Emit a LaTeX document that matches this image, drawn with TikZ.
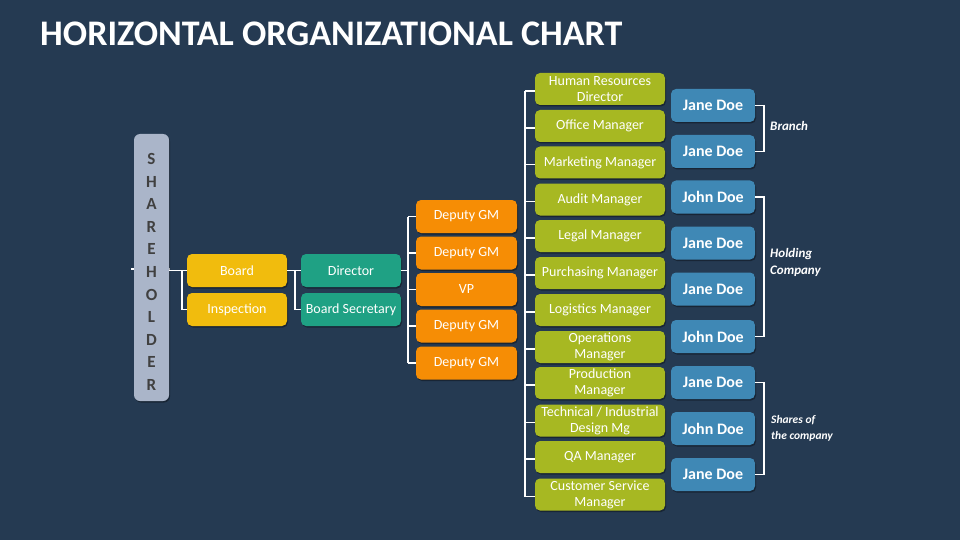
\documentclass[tikz,border=0pt]{standalone}
\usepackage{fontspec}
\setmainfont{Carlito}
\usetikzlibrary{shadows}
\definecolor{bg}{HTML}{253A52}
\definecolor{shc}{HTML}{AAB5C9}
\definecolor{shtext}{HTML}{404040}
\definecolor{yel}{HTML}{F1BC0D}
\definecolor{teal}{HTML}{1FA184}
\definecolor{ora}{HTML}{F68D05}
\definecolor{grn}{HTML}{A7B822}
\definecolor{blu}{HTML}{3F88B5}
\tikzset{
  box/.style={rounded corners=5pt, text=white, align=center, inner sep=0pt,
    font=\fontsize{14}{16}\selectfont,
    drop shadow={shadow xshift=1pt, shadow yshift=-1.5pt, opacity=0.35, fill=black}},
  ybox/.style={box, fill=yel, minimum width=100pt, minimum height=33pt},
  tbox/.style={box, fill=teal, minimum width=100pt, minimum height=33pt},
  obox/.style={box, fill=ora, minimum width=101pt, minimum height=33pt},
  gbox/.style={box, fill=grn, minimum width=130pt, minimum height=32pt},
  bbox/.style={box, fill=blu, minimum width=84pt, minimum height=33pt,
    font=\fontsize{16}{18}\selectfont\bfseries},
  conn/.style={draw=white, line width=1.6pt},
  lbl/.style={text=white, align=left, anchor=west, inner sep=0pt,
    font=\fontsize{13}{17}\selectfont\bfseries\itshape},
}
\begin{document}
\begin{tikzpicture}[x=1pt,y=-1pt]
\fill[bg] (0,0) rectangle (960,540);
\useasboundingbox (0,0) rectangle (960,540);

\node[anchor=base west, text=white, inner sep=0pt, font=\fontsize{36}{40}\selectfont\bfseries] (title) at (40,46) {HORIZONTAL ORGANIZATIONAL CHART};

% connector behind shareholder
\coordinate (shl) at (131,269);
\coordinate (shr) at (170,269);
\draw[conn] (shl) -- (shr);

\node[rounded corners=6pt, fill=shc, minimum width=35pt, minimum height=267pt, inner sep=0pt,
  drop shadow={shadow xshift=1pt, shadow yshift=-1.5pt, opacity=0.35, fill=black}] (sh) at (151.5,267.5) {};
\foreach \l [count=\i from 0] in {S,H,A,R,E,H,O,L,D,E,R}{
  \node[text=shtext, inner sep=0pt, font=\fontsize{17}{17}\selectfont\bfseries] (shl\i) at (151.5,{159+22.6*\i}) {\l};
}

\node[ybox] (board) at (237,270.5) {Board};
\node[ybox] (insp) at (237,309.5) {Inspection};
\node[tbox] (dir) at (351,270.5) {Director};
\node[tbox] (sec) at (351,309.5) {Board Secretary};

\node[obox] (o1) at (466.5,216.5) {Deputy GM};
\node[obox] (o2) at (466.5,253) {Deputy GM};
\node[obox] (o3) at (466.5,289.5) {VP};
\node[obox] (o4) at (466.5,326) {Deputy GM};
\node[obox] (o5) at (466.5,363) {Deputy GM};

\node[gbox] (g1) at (600,89) {Human Resources\\Director};
\node[gbox] (g2) at (600,126) {Office Manager};
\node[gbox] (g3) at (600,162.5) {Marketing Manager};
\node[gbox] (g4) at (600,199.5) {Audit Manager};
\node[gbox] (g5) at (600,236) {Legal Manager};
\node[gbox] (g6) at (600,273) {Purchasing Manager};
\node[gbox] (g7) at (600,310) {Logistics Manager};
\node[gbox] (g8) at (600,347) {Operations\\Manager};
\node[gbox] (g9) at (600,383) {Production\\Manager};
\node[gbox] (g10) at (600,420.5) {Technical / Industrial\\Design Mg};
\node[gbox] (g11) at (600,457) {QA Manager};
\node[gbox] (g12) at (600,494.5) {Customer Service\\Manager};

\node[bbox] (b1) at (713,105.5) {Jane Doe};
\node[bbox] (b2) at (713,151.5) {Jane Doe};
\node[bbox] (b3) at (713,197) {John Doe};
\node[bbox] (b4) at (713,243) {Jane Doe};
\node[bbox] (b5) at (713,289) {Jane Doe};
\node[bbox] (b6) at (713,336.5) {John Doe};
\node[bbox] (b7) at (713,382.5) {Jane Doe};
\node[bbox] (b8) at (713,428.5) {John Doe};
\node[bbox] (b9) at (713,474.5) {Jane Doe};

% connectors
\draw[conn] (sh.east |- board.west) -- (board.west);
\draw[conn] ([xshift=-5pt]board.west) |- (insp.west);
\draw[conn] (board.east) -- (dir.west);
\draw[conn] ([xshift=-6pt]dir.west) |- (sec.west);

\coordinate (jx) at (408,0);
\draw[conn] (dir.east) -- (dir.east -| jx);
\draw[conn] (o1.west -| jx) -- (o5.west -| jx);
\foreach \i in {1,...,5}{ \draw[conn] (o\i.west -| jx) -- (o\i.west); }

\coordinate (gx) at (525,0);
\draw[conn] ([yshift=-2pt]g1.west -| gx) -- ([yshift=-2pt]g12.west -| gx);
\foreach \i in {1,...,12}{ \draw[conn] ([yshift=-2pt]g\i.west -| gx) -- ([yshift=-2pt]g\i.west); }

\draw[conn] (b1.east) -- ++(9,0) |- (b2.east);
\draw[conn] (b3.east) -- ++(9,0) |- (b6.east);
\draw[conn] (b7.east) -- ++(9,0) |- (b9.east);

\node[lbl] (branch) at (770,125.5) {Branch};
\node[lbl] (holding) at (770,262) {Holding\\Company};
\node[lbl, font=\fontsize{11.5}{16}\selectfont\bfseries\itshape] (shares) at (771,428) {Shares of\\the company};
\end{tikzpicture}
\end{document}
